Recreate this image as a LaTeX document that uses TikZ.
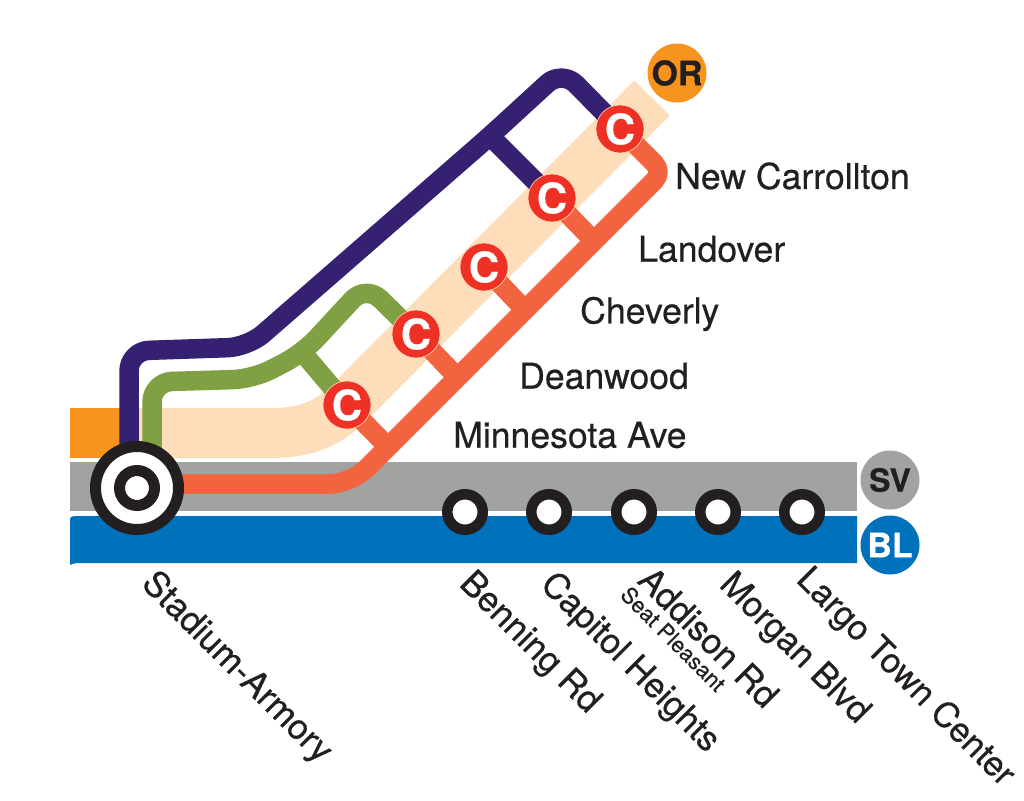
\documentclass[tikz,border=0pt]{standalone}
\usepackage{fontspec}
\setmainfont[RawFeature={embolden=0.5}]{TeX Gyre Heros}
\usetikzlibrary{backgrounds}
\definecolor{mPurple}{HTML}{352072}
\definecolor{mGreen}{HTML}{7FA043}
\definecolor{mRed}{HTML}{F26440}
\definecolor{mPeach}{HTML}{FEDDBB}
\definecolor{mOrange}{HTML}{F7941D}
\definecolor{mGray}{HTML}{A1A3A1}
\definecolor{mBlue}{HTML}{0072BC}
\definecolor{mCirc}{HTML}{EE3124}
\definecolor{mInk}{HTML}{231F20}
\tikzset{
 track/.style={line width=19.5pt,line cap=butt,line join=round},
 cstop/.style={circle,fill=mCirc,draw=mPeach,line width=.6pt,inner sep=0pt,minimum size=48pt,text=white,font=\fontsize{42}{42}\selectfont\bfseries},
 bstop/.style={circle,fill=white,draw=mInk,line width=10.5pt,inner sep=0pt,minimum size=35.5pt},
 linebadge/.style={circle,inner sep=0pt,minimum size=59pt,font=\fontsize{34}{34}\selectfont\bfseries,text=mInk},
 lab/.style={font=\fontsize{35.6}{36}\selectfont,text=mInk,inner sep=0pt},
 dlab/.style={lab,rotate=-45,anchor=base west,font=\fontsize{35}{36}\selectfont},
}
\begin{document}
\begin{tikzpicture}[x=1pt,y=-1pt]
\useasboundingbox (0,0) rectangle (1024,800);
% stations
\node[cstop] (c1) at (347,405) {C};
\node[cstop] (c2) at (416,334) {C};
\node[cstop] (c3) at (484,267) {C};
\node[cstop] (c4) at (552,198) {C};
\node[cstop] (c5) at (620,129) {C};
\node[bstop] (s1) at (465,512) {};
\node[bstop] (s2) at (549,512) {};
\node[bstop] (s3) at (634,512) {};
\node[bstop] (s4) at (718,512) {};
\node[bstop] (s5) at (802,512) {};
\node[circle,fill=white,draw=mInk,line width=11pt,inner sep=0pt,minimum size=83pt] (sa) at (137,488) {};
\node[circle,fill=white,draw=mInk,line width=11pt,inner sep=0pt,minimum size=35pt] (sb) at (sa.center) {};
% badges
\node[linebadge,fill=mOrange] (or) at (677,73) {OR};
\node[linebadge,fill=mGray,font=\fontsize{32}{32}\selectfont\bfseries] (sv) at (890,480) {SV};
\node[linebadge,fill=mBlue,text=white] (bl) at (890,545) {BL};
% labels
\node[lab,anchor=west] (l1) at (675,176) {New Carrollton};
\node[lab,anchor=west] (l2) at (638,249) {Landover};
\node[lab,anchor=west] (l3) at (580,314) {Cheverly};
\node[lab,anchor=west] (l4) at (519,376) {Deanwood};
\node[lab,anchor=west] (l5) at (453,435) {Minnesota Ave};
\node[dlab] (l6) at (140,585) {Stadium-Armory};
\node[dlab] (l7) at (458,585) {Benning Rd};
\node[dlab] (l8) at (539,586) {Capitol Heights};
\node[dlab] (l9) at (636,582) {Addison Rd};
\node[dlab,font=\fontsize{22}{22}\selectfont] (l10) at (619,596) {Seat Pleasant};
\node[dlab] (l11) at (718,586) {Morgan Blvd};
\node[dlab,font=\fontsize{34.6}{36}\selectfont] (l12) at (795,581) {Largo Town Center};
% track waypoints
\coordinate (pw) at (120,433);
\coordinate (pe) at (652,98);
\coordinate (j1) at (490,136);
\coordinate (j2) at (303,353);
\coordinate (r1) at (388,447);
\coordinate (r2) at (457,377);
\coordinate (r3) at (525,310);
\coordinate (r4) at (593,240);
\coordinate (r0) at (137,484);
\begin{scope}[on background layer]
\fill[mOrange] (70,408) rectangle (130,458);
\draw[mPeach,line width=50pt] (pw) -- (270,433) .. controls (305,433) and (325,425) .. (347,405) -- (pe);
\fill[mGray] (70,462) rectangle (857,511);
\fill[mBlue] (70,520) .. controls (70,516) and (72,516) .. (80,516) -- (857,516) -- (857,563) -- (80,563) .. controls (74,563) and (72,564) .. (70,565) -- cycle;
\draw[mRed,track,rounded corners=22pt] (r0) -- (351,484) [rounded corners=12pt] -- (663,172) -- (c5.center);
\draw[mRed,track] (c1.center) -- (r1);
\draw[mRed,track] (c2.center) -- (r2);
\draw[mRed,track] (c3.center) -- (r3);
\draw[mRed,track] (c4.center) -- (r4);
\draw[mPurple,track,rounded corners=20pt] (129,470) -- (129,351) -- (248,347) -- (j1) -- (562,70) -- (c5.center);
\draw[mPurple,track] (j1) -- (c4.center);
\draw[mGreen,track,rounded corners=20pt] (152,470) -- (152,382) -- (253,379) -- (j2) -- (366,285) -- (c2.center);
\draw[mGreen,track] (j2) -- (c1.center);
\end{scope}
\end{tikzpicture}
\end{document}
